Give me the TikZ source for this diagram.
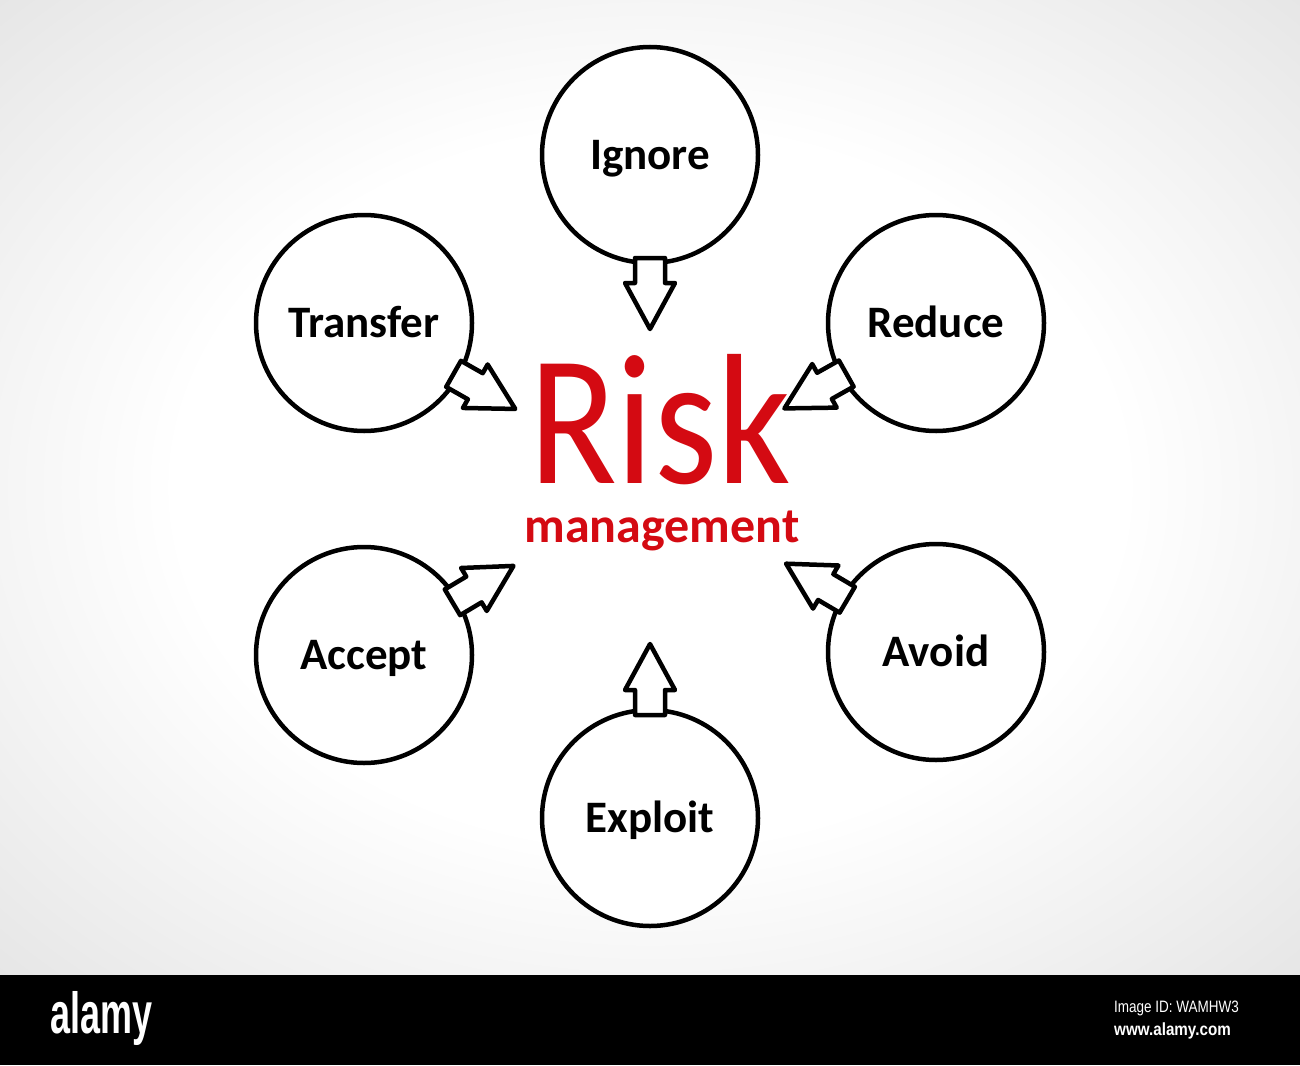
\documentclass[tikz,border=0pt]{standalone}
\usepackage{fontspec}
\setmainfont{Carlito}
\newfontfamily\barfont{Liberation Sans}
\definecolor{bgmid}{RGB}{208,208,208}
\definecolor{bgcorner}{RGB}{192,192,192}
\definecolor{riskred}{RGB}{212,10,18}
\pgfdeclareradialshading{bgshade}{\pgfpoint{0bp}{0bp}}{color(0bp)=(white); color(13bp)=(white); color(36bp)=(bgmid); color(51bp)=(bgcorner)}
\tikzset{
  circ/.style={circle, draw=black, line width=4.5pt, fill=white, minimum size=216pt, inner sep=0pt,
    font=\bfseries\fontsize{45}{50}\selectfont, text height=29pt, text depth=0pt},
  blockarr/.style={draw=black, fill=white, line width=4.5pt, line join=round},
  redtext/.style={text=riskred, inner sep=0pt},
  bartext/.style={text=white, inner sep=0pt, anchor=base west}
}
\newcommand\blockarrow[2]{%
  \draw[blockarr, shift={(#1.center)}, rotate=#2]
    (103,-15) -- (128,-15) -- (128,-25) -- (174,0) -- (128,25) -- (128,15) -- (103,15) -- cycle;}
\begin{document}
\begin{tikzpicture}[x=1pt,y=-1pt]
\useasboundingbox (0,0) rectangle (1300,1065);
\begin{scope}
\clip (0,0) rectangle (1300,975);
\shade[shading=bgshade] (-260,-200) rectangle (1560,1174);
\end{scope}
\fill[black] (0,975) rectangle (1300,1065);

\node[circ] (ignore)   at (650,155) {Ignore};
\node[circ] (transfer) at (364,323) {Transfer};
\node[circ] (reduce)   at (936,323) {Reduce};
\node[circ] (accept)   at (364,655) {Accept};
\node[circ] (avoid)    at (936,652) {Avoid};
\node[circ] (exploit)  at (650,818) {Exploit};

\blockarrow{ignore}{-90}
\blockarrow{transfer}{-29.6}
\blockarrow{reduce}{-150.6}
\blockarrow{accept}{30.8}
\blockarrow{avoid}{149.5}
\blockarrow{exploit}{90}

\node[redtext, anchor=base, text depth=0pt, font=\fontsize{186}{190}\selectfont] (risk) at (660,483) {\scalebox{0.87}[1]{Risk}};
\node[redtext, anchor=base, text height=22pt, font=\bfseries\fontsize{50}{56}\selectfont] (mgmt) at (662,542) {management};

\node[bartext, font=\barfont\bfseries\fontsize{58}{60}\selectfont] (logo) at (50,1033) {\scalebox{0.62}[1]{alamy}};
\node[bartext, font=\barfont\fontsize{15}{17}\selectfont] (imgid) at (1114,1012) {\scalebox{0.9}[1.1]{Image ID: WAMHW3}};
\node[bartext, font=\barfont\bfseries\fontsize{16}{18}\selectfont] (url) at (1114,1035) {\scalebox{0.95}[1.1]{www.alamy.com}};
\end{tikzpicture}
\end{document}
